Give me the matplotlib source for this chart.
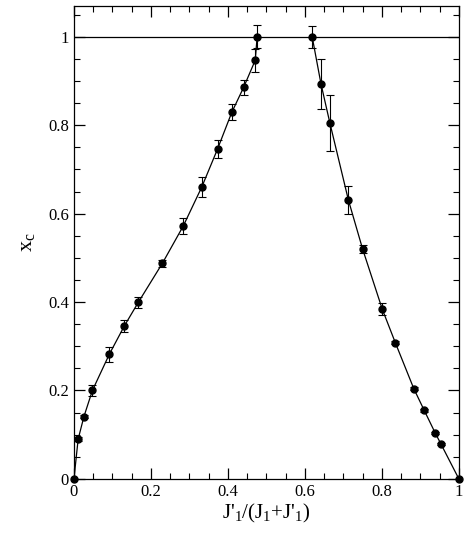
import numpy as np
import matplotlib.pyplot as plt
from matplotlib.ticker import MultipleLocator

plt.rcParams['font.family'] = ['Liberation Serif', 'DejaVu Serif']
plt.rcParams['mathtext.fontset'] = 'custom'
plt.rcParams['mathtext.rm'] = 'Liberation Serif'
plt.rcParams['mathtext.it'] = 'Liberation Serif'

# left branch (x_c rising to 1)
x_left = [0.0, 0.011, 0.026, 0.048, 0.092, 0.131, 0.167, 0.230, 0.284, 0.332,
          0.373, 0.410, 0.441, 0.471, 0.476]
y_left = [0.0, 0.090, 0.141, 0.200, 0.282, 0.346, 0.399, 0.488, 0.572, 0.660,
          0.746, 0.829, 0.886, 0.947, 1.0]
err_left = [0.0, 0.004, 0.004, 0.013, 0.017, 0.014, 0.012, 0.008, 0.018, 0.023,
            0.020, 0.018, 0.017, 0.026, 0.026]

# right branch (x_c falling from 1)
x_right = [0.619, 0.642, 0.665, 0.713, 0.750, 0.801, 0.835, 0.883, 0.910,
           0.939, 0.954, 1.0]
y_right = [1.0, 0.893, 0.805, 0.631, 0.520, 0.384, 0.308, 0.204, 0.155,
           0.103, 0.078, 0.0]
err_right = [0.025, 0.057, 0.063, 0.032, 0.010, 0.013, 0.004, 0.004, 0.003,
             0.002, 0.002, 0.0]

fig = plt.figure(figsize=(4.74, 5.38), dpi=100)
ax = fig.add_axes([0.156, 0.110, 0.812, 0.879])

ax.axhline(1.0, color='black', lw=0.9)

for xs, ys, es in [(x_left, y_left, err_left), (x_right, y_right, err_right)]:
    ax.plot(xs, ys, color='black', lw=0.9)
    ax.errorbar(xs, ys, yerr=es, fmt='none', ecolor='black',
                elinewidth=0.8, capsize=3, capthick=0.8)
    ax.plot(xs, ys, 'o', color='black', ms=5, clip_on=False, zorder=5)

ax.set_xlim(0, 1)
ax.set_ylim(0, 1.07)

ax.xaxis.set_major_locator(MultipleLocator(0.2))
ax.xaxis.set_minor_locator(MultipleLocator(0.05))
ax.yaxis.set_major_locator(MultipleLocator(0.2))
ax.yaxis.set_minor_locator(MultipleLocator(0.05))
ax.tick_params(which='both', direction='in', top=True, right=True, labelsize=12)
ax.tick_params(which='major', length=8, width=0.9)
ax.tick_params(which='minor', length=4, width=0.8)
ax.xaxis.set_major_formatter(plt.FuncFormatter(lambda v, p: '%g' % round(v, 2)))
ax.yaxis.set_major_formatter(plt.FuncFormatter(lambda v, p: '%g' % round(v, 2)))
for s in ax.spines.values():
    s.set_linewidth(0.9)

ax.set_xlabel(r"J'$_1$/(J$_1$+J'$_1$)", fontsize=15, labelpad=2)
ax.set_ylabel(r"x$_\mathrm{c}$", fontsize=16, labelpad=8)

fig.savefig('out.png', dpi=100)
